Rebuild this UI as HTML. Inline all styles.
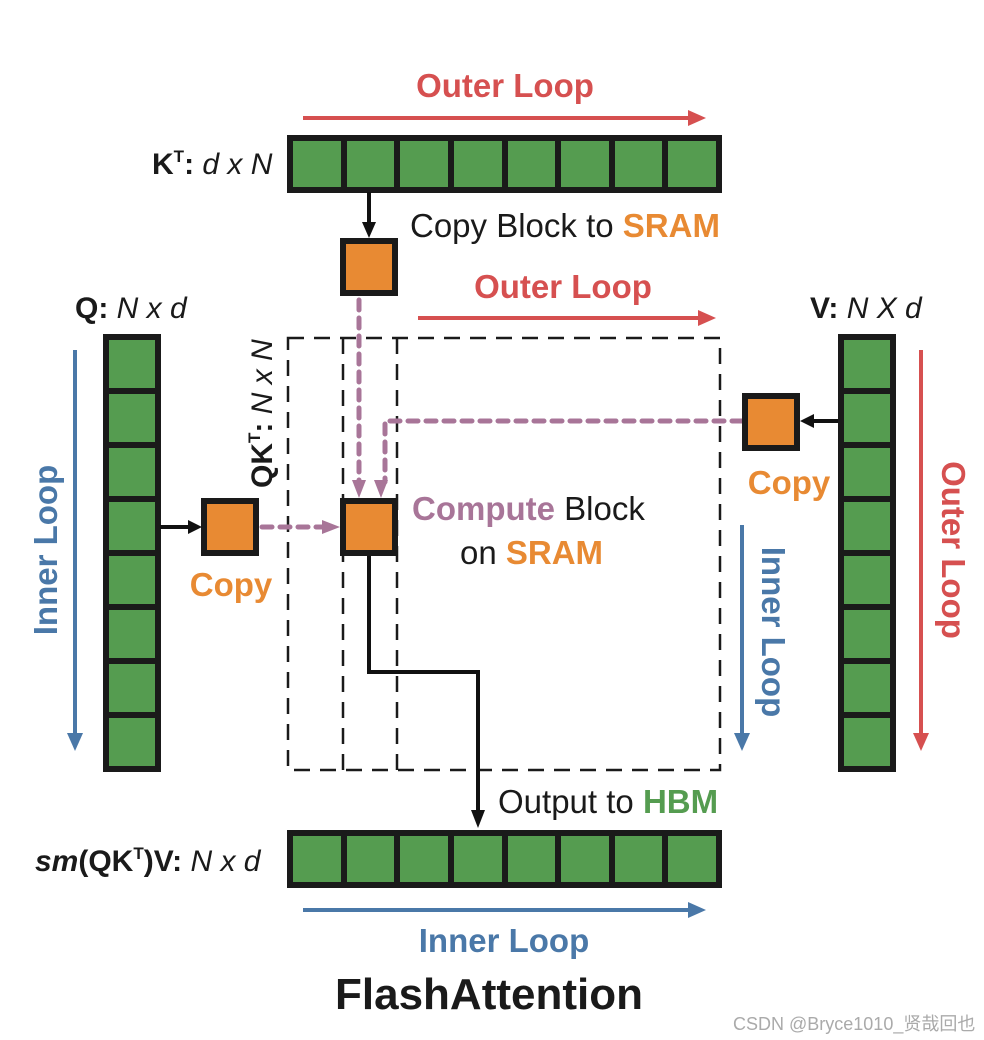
<!DOCTYPE html>
<html><head><style>body{margin:0;background:#fff}svg{display:block}text{font-family:"Liberation Sans","DejaVu Sans",sans-serif}</style></head><body>
<svg width="984" height="1040" viewBox="0 0 984 1040" xmlns="http://www.w3.org/2000/svg">
<g fill="#559c50" stroke="#1a1a1a" stroke-width="6">
<rect x="290" y="138" width="429" height="52"/>
<rect x="290" y="833" width="429" height="52"/>
<rect x="106" y="337" width="52" height="432"/>
<rect x="841" y="337" width="52" height="432"/>
</g>
<g stroke="#1a1a1a" stroke-width="6">
<path d="M344,138v52M397,138v52M451,138v52M505,138v52M558,138v52M612,138v52M665,138v52"/>
<path d="M344,833v52M397,833v52M451,833v52M505,833v52M558,833v52M612,833v52M665,833v52"/>
<path d="M106,391h52M106,445h52M106,499h52M106,553h52M106,607h52M106,661h52M106,715h52"/>
<path d="M841,391h52M841,445h52M841,499h52M841,553h52M841,607h52M841,661h52M841,715h52"/>
</g>
<g fill="none" stroke="#1a1a1a" stroke-width="2.5" stroke-dasharray="16,10">
<rect x="288" y="338" width="432" height="432"/>
<path d="M343,338V770M397,338V770"/>
</g>
<g fill="none" stroke="#a87598" stroke-width="5" stroke-dasharray="10,8" stroke-linecap="round">
<path d="M359,300V482"/>
<path d="M742,421H385V482"/>
<path d="M262,527H322"/>
</g>
<g fill="#a87598">
<path d="M352,480h14l-7,18z"/><path d="M374,480h14l-7,18z"/><path d="M322,520v14l18,-7z"/>
</g>
<g fill="#e88a33" stroke="#1a1a1a" stroke-width="6">
<rect x="343" y="241" width="52" height="52"/>
<rect x="204" y="501" width="52" height="52"/>
<rect x="343" y="501" width="52" height="52"/>
<rect x="745" y="396" width="52" height="52"/>
</g>
<g stroke="#111" stroke-width="4" fill="none">
<path d="M369,192V224"/><path d="M160,527H190"/><path d="M838,421H812"/>
<path d="M369,556V672H478V812"/>
</g>
<g fill="#111">
<path d="M362,222h14l-7,16z"/><path d="M188,520v14l14,-7z"/><path d="M814,414v14l-14,-7z"/><path d="M471,810h14l-7,18z"/>
</g>
<g stroke-width="4" fill="none">
<path d="M303,118H690" stroke="#d65050"/>
<path d="M418,318H700" stroke="#d65050"/>
<path d="M921,350V735" stroke="#d65050"/>
<path d="M75,350V735" stroke="#4a78a8"/>
<path d="M742,525V735" stroke="#4a78a8"/>
<path d="M303,910H690" stroke="#4a78a8"/>
</g>
<path d="M688,110v16l18,-8z" fill="#d65050"/>
<path d="M698,310v16l18,-8z" fill="#d65050"/>
<path d="M913,733h16l-8,18z" fill="#d65050"/>
<path d="M67,733h16l-8,18z" fill="#4a78a8"/>
<path d="M734,733h16l-8,18z" fill="#4a78a8"/>
<path d="M688,902v16l18,-8z" fill="#4a78a8"/>
<g font-size="33" font-weight="bold">
<text x="505" y="97" text-anchor="middle" fill="#d65050">Outer Loop</text>
<text x="563" y="298" text-anchor="middle" fill="#d65050">Outer Loop</text>
<text x="504" y="952" text-anchor="middle" fill="#4a78a8">Inner Loop</text>
<text x="231" y="596" text-anchor="middle" fill="#e88a33">Copy</text>
<text x="789" y="494" text-anchor="middle" fill="#e88a33">Copy</text>
<text transform="translate(57,550) rotate(-90)" text-anchor="middle" fill="#4a78a8">Inner Loop</text>
<text transform="translate(942,550) rotate(90)" text-anchor="middle" fill="#d65050">Outer Loop</text>
<text transform="translate(762,632) rotate(90)" text-anchor="middle" fill="#4a78a8">Inner Loop</text>
</g>
<g font-size="33" fill="#1a1a1a">
<text x="410" y="237">Copy Block to <tspan fill="#e88a33" font-weight="bold">SRAM</tspan></text>
<text x="412" y="520"><tspan fill="#a87598" font-weight="bold">Compute</tspan> Block</text>
<text x="460" y="564">on <tspan fill="#e88a33" font-weight="bold">SRAM</tspan></text>
<text x="498" y="813">Output to <tspan fill="#559c50" font-weight="bold">HBM</tspan></text>
</g>
<g font-size="30" fill="#1a1a1a">
<text x="152" y="174"><tspan font-weight="bold">K<tspan font-size="17" dy="-12">T</tspan><tspan dy="12">:</tspan></tspan> <tspan font-style="italic">d x N</tspan></text>
<text x="75" y="318"><tspan font-weight="bold">Q:</tspan> <tspan font-style="italic">N x d</tspan></text>
<text x="810" y="318"><tspan font-weight="bold">V:</tspan> <tspan font-style="italic">N X d</tspan></text>
<text x="35" y="871"><tspan font-weight="bold"><tspan font-style="italic">sm</tspan>(QK<tspan font-size="17" dy="-12">T</tspan><tspan dy="12">)V:</tspan></tspan> <tspan font-style="italic">N x d</tspan></text>
<text transform="translate(272,488) rotate(-90)"><tspan font-weight="bold">QK<tspan font-size="17" dy="-12">T</tspan><tspan dy="12">:</tspan></tspan> <tspan font-style="italic">N x N</tspan></text>
</g>
<text x="489" y="1009" text-anchor="middle" font-size="44" font-weight="bold" fill="#1a1a1a">FlashAttention</text>
<text x="733" y="1030" font-size="18" fill="#aaa" style="font-family:'Liberation Sans','Noto Sans CJK SC',sans-serif">CSDN @Bryce1010_贤哉回也</text>
</svg>
</body></html>
